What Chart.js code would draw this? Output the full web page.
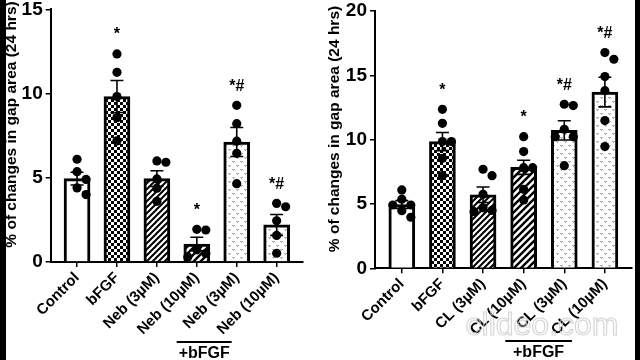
<!DOCTYPE html>
<html>
<head>
<meta charset="utf-8">
<script src="https://cdn.jsdelivr.net/npm/chart.js@4"></script>
<style>
  body { margin: 0; background: #000; width: 640px; height: 360px; overflow: hidden; position: relative; }
  canvas { position: absolute; top: 0; background: #fff; }
  #leftChart { left: 0; }
  #rightChart { left: 320px; }
  .edge { position: absolute; top: 0; height: 360px; background: #000; }
</style>
</head>
<body>
<canvas id="leftChart" width="320" height="360"></canvas>
<canvas id="rightChart" width="320" height="360"></canvas>
<div class="edge" style="left:0;width:6px"></div>
<div class="edge" style="left:635px;width:5px"></div>
<script>
// left panel: nebivolol
const nebLabels = ["Control", "bFGF", "Neb (3µM)", "Neb (10µM)", "Neb (3µM)", "Neb (10µM)"];
const nebMeans = [4.95, 9.82, 4.95, 1.07, 7.12, 2.2];
const nebSem = [0.38, 0.95, 0.47, 0.4, 0.86, 0.62];
const nebPoints = [
  [6.1, 5.36, 4.9, 4.0, 4.4],
  [12.35, 11.26, 9.82, 8.57, 7.19],
  [6.0, 5.92, 4.93, 4.38, 3.6],
  [1.9, 1.94, 0.72, 0.5, 0.3],
  [9.3, 8.21, 7.17, 6.45, 4.65],
  [3.48, 3.28, 2.45, 1.58, 0.52]
];
const nebMarks = ["", "*", "", "*", "*#", "*#"];
const nebYMax = 15;

// right panel: CL
const clLabels = ["Control", "bFGF", "CL (3µM)", "CL (10µM)", "CL (3µM)", "CL (10µM)"];
const clMeans = [4.96, 9.85, 5.72, 7.85, 10.72, 13.7];
const clSem = [0.3, 0.7, 0.6, 0.55, 0.75, 1.15];
const clPoints = [
  [6.09, 5.37, 4.92, 4.92, 4.48, 3.97],
  [12.36, 11.27, 9.85, 9.85, 8.55, 7.2],
  [7.7, 7.2, 5.75, 4.5, 4.4, 4.7],
  [10.23, 9.07, 7.82, 7.82, 6.14, 5.31],
  [12.75, 12.65, 10.81, 10.23, 10.23, 7.98],
  [16.25, 16.77, 14.9, 13.81, 11.48, 9.46]
];
const clMarks = ["", "*", "", "*", "*#", "*#"];
const clYMax = 20;

const yTitle = "% of changes in gap area (24 hrs)";
const groupText = "+bFGF";
const FONT = '"Liberation Sans", Arial, sans-serif';
const fillKinds = ["plain", "checker", "hatch", "hatchWide", "dots", "dots"];

function makePattern(kind) {
  const c = document.createElement("canvas");
  const g = c.getContext("2d");
  const s = kind === "checker" ? 6 : kind === "hatchWide" ? 7 : kind === "hatch" ? 6 : 8;
  c.width = c.height = s;
  g.fillStyle = "#fff";
  g.fillRect(0, 0, s, s);
  if (kind === "checker") {
    g.fillStyle = "#000";
    g.fillRect(0, 0, 3, 3);
    g.fillRect(3, 3, 3, 3);
  } else if (kind === "hatch" || kind === "hatchWide") {
    g.strokeStyle = "#000";
    g.lineWidth = kind === "hatch" ? 2 : 2.4;
    g.beginPath();
    g.moveTo(0, s); g.lineTo(s, 0);
    g.moveTo(-s / 2, s / 2); g.lineTo(s / 2, -s / 2);
    g.moveTo(s / 2, s * 1.5); g.lineTo(s * 1.5, s / 2);
    g.stroke();
  } else if (kind === "dots") {
    g.strokeStyle = "#8c8c8c";
    g.lineWidth = 1;
    g.beginPath();
    g.moveTo(0.5, 1); g.lineTo(1.5, 2.5); g.lineTo(2.5, 1);
    g.moveTo(4.5, 5); g.lineTo(5.5, 6.5); g.lineTo(6.5, 5);
    g.stroke();
  }
  return g.createPattern(c, "repeat");
}

// simple beeswarm so overlapping dots spread sideways
function swarm(values, pxPerUnit, catPx) {
  const r = 4.6, step = 9;
  const placed = [];
  const out = new Array(values.length);
  const order = values.map((v, i) => i).sort((a, b) => values[b] - values[a]);
  order.forEach(i => {
    const y = values[i] * pxPerUnit;
    let dx = 0;
    for (const t of [0, step, -step, 2 * step, -2 * step]) {
      if (placed.every(p => Math.hypot(p.x - t, p.y - y) >= 2 * r - 0.5)) { dx = t; break; }
    }
    placed.push({ x: dx, y });
    out[i] = dx / catPx;
  });
  return out;
}

function makeChart(id, labels, means, sem, points, marks, yMax, geo) {
  const plotH = 360 - geo.xHeight - geo.top;
  const plotW = 320 - geo.right - geo.yWidth;
  const catPx = plotW / 6.32;
  const scatter = [];
  points.forEach((vals, i) => {
    const offs = swarm(vals, plotH / yMax, catPx);
    vals.forEach((v, k) => scatter.push({ x: i + offs[k], y: v }));
  });

  const decor = {
    id: "decor",
    afterDatasetDraw(chart, args) {
      if (args.index !== 0) return;
      const { ctx, scales: { x, y } } = chart;
      ctx.save();
      ctx.strokeStyle = "#000";
      ctx.lineWidth = 1.6;
      means.forEach((m, i) => {
        const cx = x.getPixelForValue(i);
        const t = y.getPixelForValue(m + sem[i]);
        const b = y.getPixelForValue(m - sem[i]);
        ctx.beginPath();
        ctx.moveTo(cx, t); ctx.lineTo(cx, b);
        ctx.moveTo(cx - 6.5, t); ctx.lineTo(cx + 6.5, t);
        ctx.moveTo(cx - 6.5, b); ctx.lineTo(cx + 6.5, b);
        ctx.stroke();
      });
      ctx.restore();
    },
    afterDatasetsDraw(chart) {
      const { ctx, scales: { x, y } } = chart;
      ctx.save();
      ctx.fillStyle = "#000";
      ctx.font = "bold 16px " + FONT;
      ctx.textAlign = "center";
      ctx.textBaseline = "middle";
      marks.forEach((mk, i) => {
        if (!mk) return;
        const top = Math.max(Math.max(...points[i]), means[i] + sem[i]);
        ctx.fillText(mk, x.getPixelForValue(i), y.getPixelForValue(top) - 19);
      });
      ctx.restore();
    },
    afterDraw(chart) {
      const { ctx, scales: { x } } = chart;
      ctx.save();
      // y axis title, rotated
      ctx.save();
      ctx.translate(geo.titleX, geo.titleY);
      ctx.rotate(-Math.PI / 2);
      ctx.fillStyle = "#000";
      ctx.font = "bold 15.5px " + FONT;
      ctx.textAlign = "center";
      ctx.textBaseline = "middle";
      ctx.fillText(yTitle, 0, 0);
      ctx.restore();

      const x1 = x.getPixelForValue(4) - geo.brL;
      const x2 = x.getPixelForValue(5) - geo.brR;
      ctx.strokeStyle = "#000";
      ctx.lineWidth = 2;
      ctx.beginPath();
      ctx.moveTo(x1, geo.brY); ctx.lineTo(x2, geo.brY);
      ctx.stroke();
      ctx.fillStyle = "#000";
      ctx.font = "bold 16px " + FONT;
      ctx.textAlign = "center";
      ctx.textBaseline = "alphabetic";
      ctx.fillText(groupText, (x1 + x2) / 2, geo.brY + 16);
      if (geo.watermark) {
        ctx.font = "32px " + FONT;
        ctx.strokeStyle = "rgba(200,200,200,0.75)";
        ctx.lineWidth = 1.2;
        ctx.strokeText(geo.watermark, 222, 335);
      }
      ctx.restore();
    }
  };

  return new Chart(document.getElementById(id), {
    type: "bar",
    data: {
      datasets: [
        {
          type: "bar",
          data: means.map((m, i) => ({ x: i, y: m })),
          backgroundColor: fillKinds.map(makePattern),
          borderColor: "#000",
          borderWidth: 3,
          barThickness: 26,
          order: 2
        },
        {
          type: "scatter",
          data: scatter,
          pointRadius: 4.6,
          pointBackgroundColor: "#000",
          pointBorderWidth: 0,
          order: 1
        }
      ]
    },
    options: {
      responsive: false,
      animation: false,
      events: [],
      layout: { padding: { top: geo.top, right: geo.right, left: 0, bottom: 0 } },
      plugins: { legend: { display: false }, tooltip: { enabled: false } },
      scales: {
        x: {
          type: "linear",
          min: -0.66,
          max: 5.66,
          offset: false,
          grid: { display: true, offset: false, drawOnChartArea: false, tickLength: 5, color: "#000", lineWidth: 1.5 },
          border: { color: "#000", width: 2 },
          afterBuildTicks: s => { s.ticks = labels.map((_, i) => ({ value: i })); },
          afterFit: s => { s.height = geo.xHeight; s.paddingLeft = 0; s.paddingRight = 0; },
          ticks: {
            callback: v => labels[v],
            autoSkip: false,
            minRotation: 45,
            maxRotation: 45,
            padding: 2,
            color: "#000",
            font: { family: FONT, size: 15, weight: "bold" }
          }
        },
        y: {
          min: 0,
          max: yMax,
          grid: { drawOnChartArea: false, tickLength: 5, color: "#000", lineWidth: 1.5 },
          border: { color: "#000", width: 2 },
          afterFit: s => { s.width = geo.yWidth; s.paddingTop = 0; s.paddingBottom = 0; },
          ticks: {
            stepSize: 5,
            padding: 3,
            color: "#000",
            font: { family: FONT, size: 19, weight: "bold" }
          }
        }
      }
    },
    plugins: [decor]
  });
}

makeChart("leftChart", nebLabels, nebMeans, nebSem, nebPoints, nebMarks, nebYMax,
  { top: 9.3, right: 17, yWidth: 50.7, xHeight: 98, titleX: 12, titleY: 124.5, brL: 60, brR: 45, brY: 342 });
makeChart("rightChart", clLabels, clMeans, clSem, clPoints, clMarks, clYMax,
  { top: 11, right: 8.3, yWidth: 55, xHeight: 91.7, titleX: 15, titleY: 129, brL: 59, brR: 33, brY: 341, watermark: "clideo.com" });
</script>
</body>
</html>
